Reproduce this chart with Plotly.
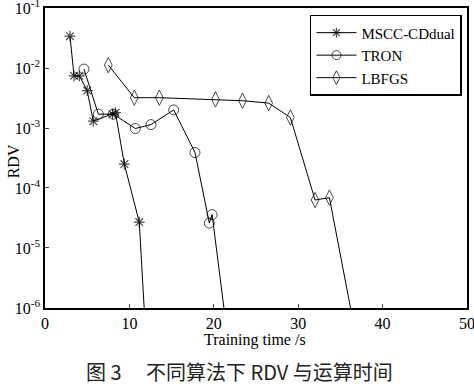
import plotly.graph_objects as go

# MSCC-CDdual
mscc_x = [2.96, 3.44, 4.07, 5.0, 5.72, 8.0, 8.35, 9.4, 11.17, 11.75]
mscc_y = [0.034, 0.0074, 0.0074, 0.0042, 0.0013, 0.0017, 0.0018, 0.00025, 2.7e-5, 1e-6]
# TRON
tron_x = [4.62, 6.32, 8.1, 10.7, 12.56, 15.25, 17.77, 19.47, 19.8, 21.2]
tron_y = [0.0096, 0.0017, 0.0017, 0.00098, 0.00114, 0.002, 0.00039, 2.6e-5, 3.6e-5, 1e-6]
# LBFGS
lbfgs_x = [7.5, 10.58, 13.55, 20.2, 23.4, 26.5, 29.07, 32.0, 33.7, 36.2]
lbfgs_y = [0.0112, 0.0032, 0.0032, 0.0030, 0.00285, 0.0026, 0.0015, 6.3e-5, 6.9e-5, 1e-6]

x_ticks = [0, 10, 20, 30, 40, 50]
y_tickvals = [1e-6, 1e-5, 1e-4, 1e-3, 1e-2, 1e-1]
y_ticktext = ["10<sup>-6</sup>", "10<sup>-5</sup>", "10<sup>-4</sup>", "10<sup>-3</sup>",
              "10<sup>-2</sup>", "10<sup>-1</sup>"]

serif = "Liberation Serif, Times New Roman, serif"

def sizes(n, s):
    return [s] * (n - 1) + [0]

fig = go.Figure()
fig.add_trace(go.Scatter(x=mscc_x, y=mscc_y, name="MSCC-CDdual", mode="lines+markers",
                         line=dict(color="black", width=1),
                         marker=dict(symbol="asterisk-open", size=sizes(len(mscc_x), 9),
                                     color="black", line=dict(color="black", width=1.2))))
fig.add_trace(go.Scatter(x=tron_x, y=tron_y, name="TRON", mode="lines+markers",
                         line=dict(color="black", width=1),
                         marker=dict(symbol="circle-open", size=sizes(len(tron_x), 10),
                                     color="black", line=dict(color="black", width=1))))
fig.add_trace(go.Scatter(x=lbfgs_x, y=lbfgs_y, name="LBFGS", mode="lines+markers",
                         line=dict(color="black", width=1),
                         marker=dict(symbol="diamond-tall-open", size=sizes(len(lbfgs_x), 11),
                                     color="black", line=dict(color="black", width=1))))

fig.update_layout(
    width=474, height=387,
    margin=dict(l=45, r=7, t=8, b=79, autoexpand=False),
    paper_bgcolor="white", plot_bgcolor="white",
    font=dict(family=serif, size=14, color="black"),
    showlegend=True,
    legend=dict(x=0.988, y=0.977, xanchor="right", yanchor="top",
                bordercolor="black", borderwidth=1.5, bgcolor="white",
                font=dict(family=serif, size=15),
                tracegroupgap=0, itemwidth=40),
    xaxis=dict(range=[0, 50], tickvals=x_ticks, ticks="inside", ticklen=4,
               showgrid=False, zeroline=False, showline=True, linecolor="black",
               linewidth=1.5, mirror=True, tickfont=dict(family=serif, size=16),
               automargin=False, ticklabeloverflow="allow"),
    yaxis=dict(type="log", range=[-6.0005, -0.9995], tickvals=y_tickvals, ticktext=y_ticktext,
               ticks="inside", ticklen=4, showgrid=False, zeroline=False, showline=True,
               linecolor="black", linewidth=1.5, mirror=True,
               tickfont=dict(family=serif, size=16), automargin=False,
               ticklabeloverflow="allow"),
)

fig.add_annotation(text="Training time /s", xref="paper", yref="paper",
                   x=0.497, y=-0.107, yanchor="middle", xanchor="center", showarrow=False,
                   font=dict(family=serif, size=16, color="black"))
fig.add_annotation(text="RDV", xref="paper", yref="paper", textangle=-90,
                   x=-0.075, y=0.49, yanchor="middle", xanchor="center", showarrow=False,
                   font=dict(family=serif, size=16, color="black"))
fig.add_annotation(text="图 3　 不同算法下 RDV 与运算时间", xref="paper", yref="paper",
                   x=0.462, y=-0.213, yanchor="middle", xanchor="center", showarrow=False,
                   font=dict(family="Noto Sans CJK SC, " + serif, size=20, color="#222"))

fig.write_html("out.html", config={"displayModeBar": False},
               post_script="document.body.style.margin='0';document.body.style.overflow='hidden';")
